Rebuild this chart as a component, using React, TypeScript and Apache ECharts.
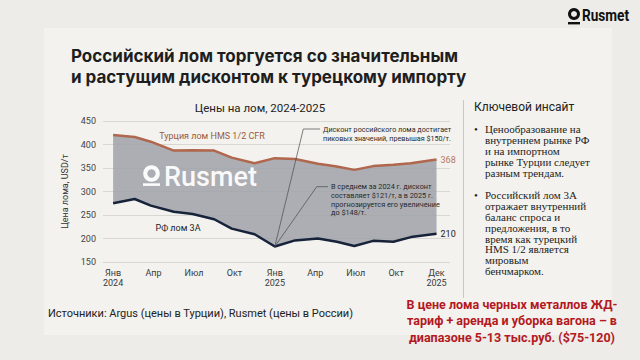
import React, { useEffect, useRef } from 'react';
import * as echarts from 'echarts';

// ---- data (months since Jan 2024) ----
const monthPos = [0, 1.6, 2.8, 4.5, 5.9, 7.5, 8.8, 10.5, 12, 13.5, 15.2, 16.6, 17.9, 19.3, 20.8, 22.1, 24];
const turkeyHms = [420, 416, 406, 387, 388, 387, 372, 360, 371, 369, 359, 353, 346, 354, 357, 360, 368];
const russia3a = [275, 284, 270, 257, 252, 241, 221, 209, 183, 196, 200, 193, 184, 195, 193, 203, 210];
const tickPos = [0, 3, 6, 9, 12, 15, 18, 21, 24];
const tickLabels = ['Янв\n2024', 'Апр', 'Июл', 'Окт', 'Янв\n2025', 'Апр', 'Июл', 'Окт', 'Дек\n2025'];
const yMin = 150;
const yMax = 450;
const yStep = 50;

const title = 'Российский лом торгуется со значительным\nи растущим дисконтом к турецкому импорту';
const chartTitle = 'Цены на лом, 2024-2025';
const yName = 'Цена лома, USD/т';
const turkeyName = 'Турция лом HMS 1/2 CFR';
const russiaName = 'РФ лом 3А';
const note1 = 'Дисконт российского лома достигает\nпиковых значений, превышая $150/т.';
const note2 = 'В среднем за 2024 г. дисконт\nсоставляет $121/т, а в 2025 г.\nпрогнозируется его увеличение\nдо $148/т.';
const insightHead = 'Ключевой инсайт';
const bullet1 = 'Ценообразование на\nвнутреннем рынке РФ\nи на импортном\nрынке Турции следует\nразным трендам.';
const bullet2 = 'Российский лом 3А\nотражает внутренний\nбаланс спроса и\nпредложения, в то\nвремя как турецкий\nHMS 1/2 является\nмировым\nбенчмарком.';
const sources = 'Источники: Argus (цены в Турции), Rusmet (цены в России)';
const redNote = 'В цене лома черных металлов ЖД-\nтариф + аренда и уборка вагона – в\nдиапазоне 5-13 тыс.руб. ($75-120)';
const brand = 'Rusmet';

const FONT = 'Roboto, "Noto Sans", sans-serif';

function txt(x: number, y: number, text: string, o: any = {}) {
  const align = o.align || 'left';
  const valign = o.valign || 'middle';
  return {
    type: 'text',
    x,
    y,
    z: o.z ?? 50,
    scaleX: o.scaleX ?? 1,
    style: {
      text,
      fill: o.fill || '#222',
      fontSize: o.size || 10,
      fontFamily: o.family || FONT,
      fontWeight: o.weight || 'normal',
      lineHeight: o.lh,
      align,
      textAlign: align,
      verticalAlign: valign,
      textVerticalAlign: valign,
      opacity: o.opacity ?? 1,
    },
  };
}

export default function App() {
  const ref = useRef<HTMLDivElement>(null);
  useEffect(() => {
    const chart = echarts.init(ref.current!, null, { renderer: 'svg' });
    const turkeyData = monthPos.map((m, i) => [m, turkeyHms[i]]);
    const russiaData = monthPos.map((m, i) => {
      const item: any = { value: [m, russia3a[i]] };
      if (m === 17.9) {
        item.label = { show: true, position: 'bottom', distance: 3, formatter: String(russia3a[i]), fontSize: 9, color: '#222' };
      }
      return item;
    });

    chart.setOption({
      animation: false,
      backgroundColor: '#edece8',
      textStyle: { fontFamily: FONT },
      grid: { left: 103, right: 190, top: 121, bottom: 98 },
      xAxis: {
        type: 'value',
        min: -0.75,
        max: 25,
        axisLine: { show: false },
        axisTick: { show: false },
        splitLine: { show: false },
        axisLabel: {
          customValues: tickPos,
          formatter: (v: number) => tickLabels[tickPos.indexOf(Math.round(v))] ?? '',
          fontSize: 9,
          color: '#3a3a3a',
          lineHeight: 10,
          margin: 6,
        },
      },
      yAxis: {
        type: 'value',
        min: yMin,
        max: yMax,
        interval: yStep,
        axisLine: { show: false },
        axisTick: { show: false },
        axisLabel: { fontSize: 9, color: '#444', margin: 7 },
        splitLine: { lineStyle: { color: '#d8d7d2', width: 1 } },
        name: yName,
        nameLocation: 'middle',
        nameRotate: 90,
        nameGap: 26,
        nameTextStyle: { fontSize: 9, color: '#333' },
      },
      series: [
        {
          type: 'custom',
          silent: true,
          z: 1,
          data: [[0, yMin]],
          renderItem: (_params: any, api: any) => {
            const top = monthPos.map((m, i) => api.coord([m, turkeyHms[i]]));
            const bottom = monthPos.map((m, i) => api.coord([m, russia3a[i]])).reverse();
            return {
              type: 'polygon',
              shape: { points: top.concat(bottom) },
              style: { fill: '#9fa2a8', opacity: 0.85 },
            };
          },
        },
        {
          type: 'line',
          name: turkeyName,
          data: turkeyData,
          symbol: 'none',
          lineStyle: { color: '#b0674d', width: 2.5 },
          endLabel: {
            show: true,
            formatter: (p: any) => String(p.value[1]),
            color: '#b4785e',
            fontSize: 9,
            distance: 4,
          },
          z: 3,
        },
        {
          type: 'line',
          name: russiaName,
          data: russiaData,
          symbol: 'none',
          lineStyle: { color: '#17233a', width: 2.5 },
          endLabel: {
            show: true,
            formatter: (p: any) => String(p.value[1]),
            color: '#222',
            fontSize: 9,
            distance: 4,
          },
          z: 3,
        },
      ],
    });

    const anchorIdx = monthPos.indexOf(12);
    const a = chart.convertToPixel({ gridIndex: 0 }, [monthPos[anchorIdx], russia3a[anchorIdx]]) as number[];
    const lineStyle = { stroke: '#4a4a4a', lineWidth: 0.7 };

    chart.setOption({
      graphic: [
        { type: 'rect', z: -100, shape: { x: 44, y: 28, width: 568, height: 307 }, style: { fill: '#f3f2ee' } },
        // top logo
        { type: 'ring', z: 50, shape: { cx: 574, cy: 14, r: 6, r0: 3 }, style: { fill: '#111' } },
        { type: 'rect', z: 50, shape: { x: 568, y: 22, width: 12, height: 2.4 }, style: { fill: '#111' } },
        txt(582, 16, brand, { size: 16, weight: 'bold', fill: '#111', scaleX: 0.85 }),
        // title
        txt(71, 45.5, title, { size: 17, weight: 'bold', fill: '#1e1e1e', lh: 21, valign: 'top', family: 'Inter, Roboto, sans-serif' }),
        txt(260, 108, chartTitle, { size: 11.5, fill: '#222', align: 'center' }),
        // series labels
        txt(212, 136, turkeyName, { size: 9, fill: '#9b5a41', align: 'center' }),
        txt(178, 228, russiaName, { size: 9, fill: '#222', align: 'center' }),
        // annotations
        { type: 'line', z: 40, shape: { x1: 303.3, y1: 129, x2: 320, y2: 129 }, style: lineStyle },
        { type: 'line', z: 40, shape: { x1: 303.3, y1: 129, x2: a[0], y2: a[1] }, style: lineStyle },
        { type: 'line', z: 40, shape: { x1: 316.7, y1: 186.7, x2: 328, y2: 186.7 }, style: lineStyle },
        { type: 'line', z: 40, shape: { x1: 316.7, y1: 186.7, x2: a[0], y2: a[1] }, style: lineStyle },
        txt(323, 124.5, note1, { size: 7.2, fill: '#2a2a2a', lh: 9, valign: 'top' }),
        txt(331, 182.2, note2, { size: 7.3, fill: '#2a2a2a', lh: 8.8, valign: 'top' }),
        // watermark
        { type: 'ring', z: 60, shape: { cx: 151.5, cy: 173.5, r: 8.3, r0: 4.2 }, style: { fill: '#ffffff', opacity: 0.95 } },
        { type: 'rect', z: 60, shape: { x: 143, y: 183.3, width: 17, height: 2.6 }, style: { fill: '#ffffff', opacity: 0.95 } },
        txt(164, 177, brand, { size: 27, weight: 500, fill: '#ffffff', opacity: 0.95, z: 60 }),
        // divider + insight panel
        { type: 'line', z: 40, shape: { x1: 463.5, y1: 100, x2: 463.5, y2: 298 }, style: { stroke: '#c9c8c4', lineWidth: 1 } },
        txt(474, 107, insightHead, { size: 12, fill: '#222' }),
        txt(474, 123.5, '•', { size: 11, fill: '#222', valign: 'top', lh: 11, family: '"Liberation Serif", serif' }),
        txt(485, 123.5, bullet1, { size: 11, fill: '#222', valign: 'top', lh: 10.9, family: '"Liberation Serif", serif' }),
        txt(474, 189.5, '•', { size: 11, fill: '#222', valign: 'top', lh: 11, family: '"Liberation Serif", serif' }),
        txt(485, 189.5, bullet2, { size: 11, fill: '#222', valign: 'top', lh: 10.9, family: '"Liberation Serif", serif' }),
        // footer
        txt(48, 313, sources, { size: 11, fill: '#222' }),
        txt(512, 295.7, redNote, { size: 12.5, weight: 'bold', fill: '#b3191f', align: 'center', valign: 'top', lh: 16.8 }),
      ],
    });

    return () => chart.dispose();
  }, []);
  return <div ref={ref} style={{ position: 'absolute', left: 0, top: 0, width: 640, height: 360 }} />;
}
